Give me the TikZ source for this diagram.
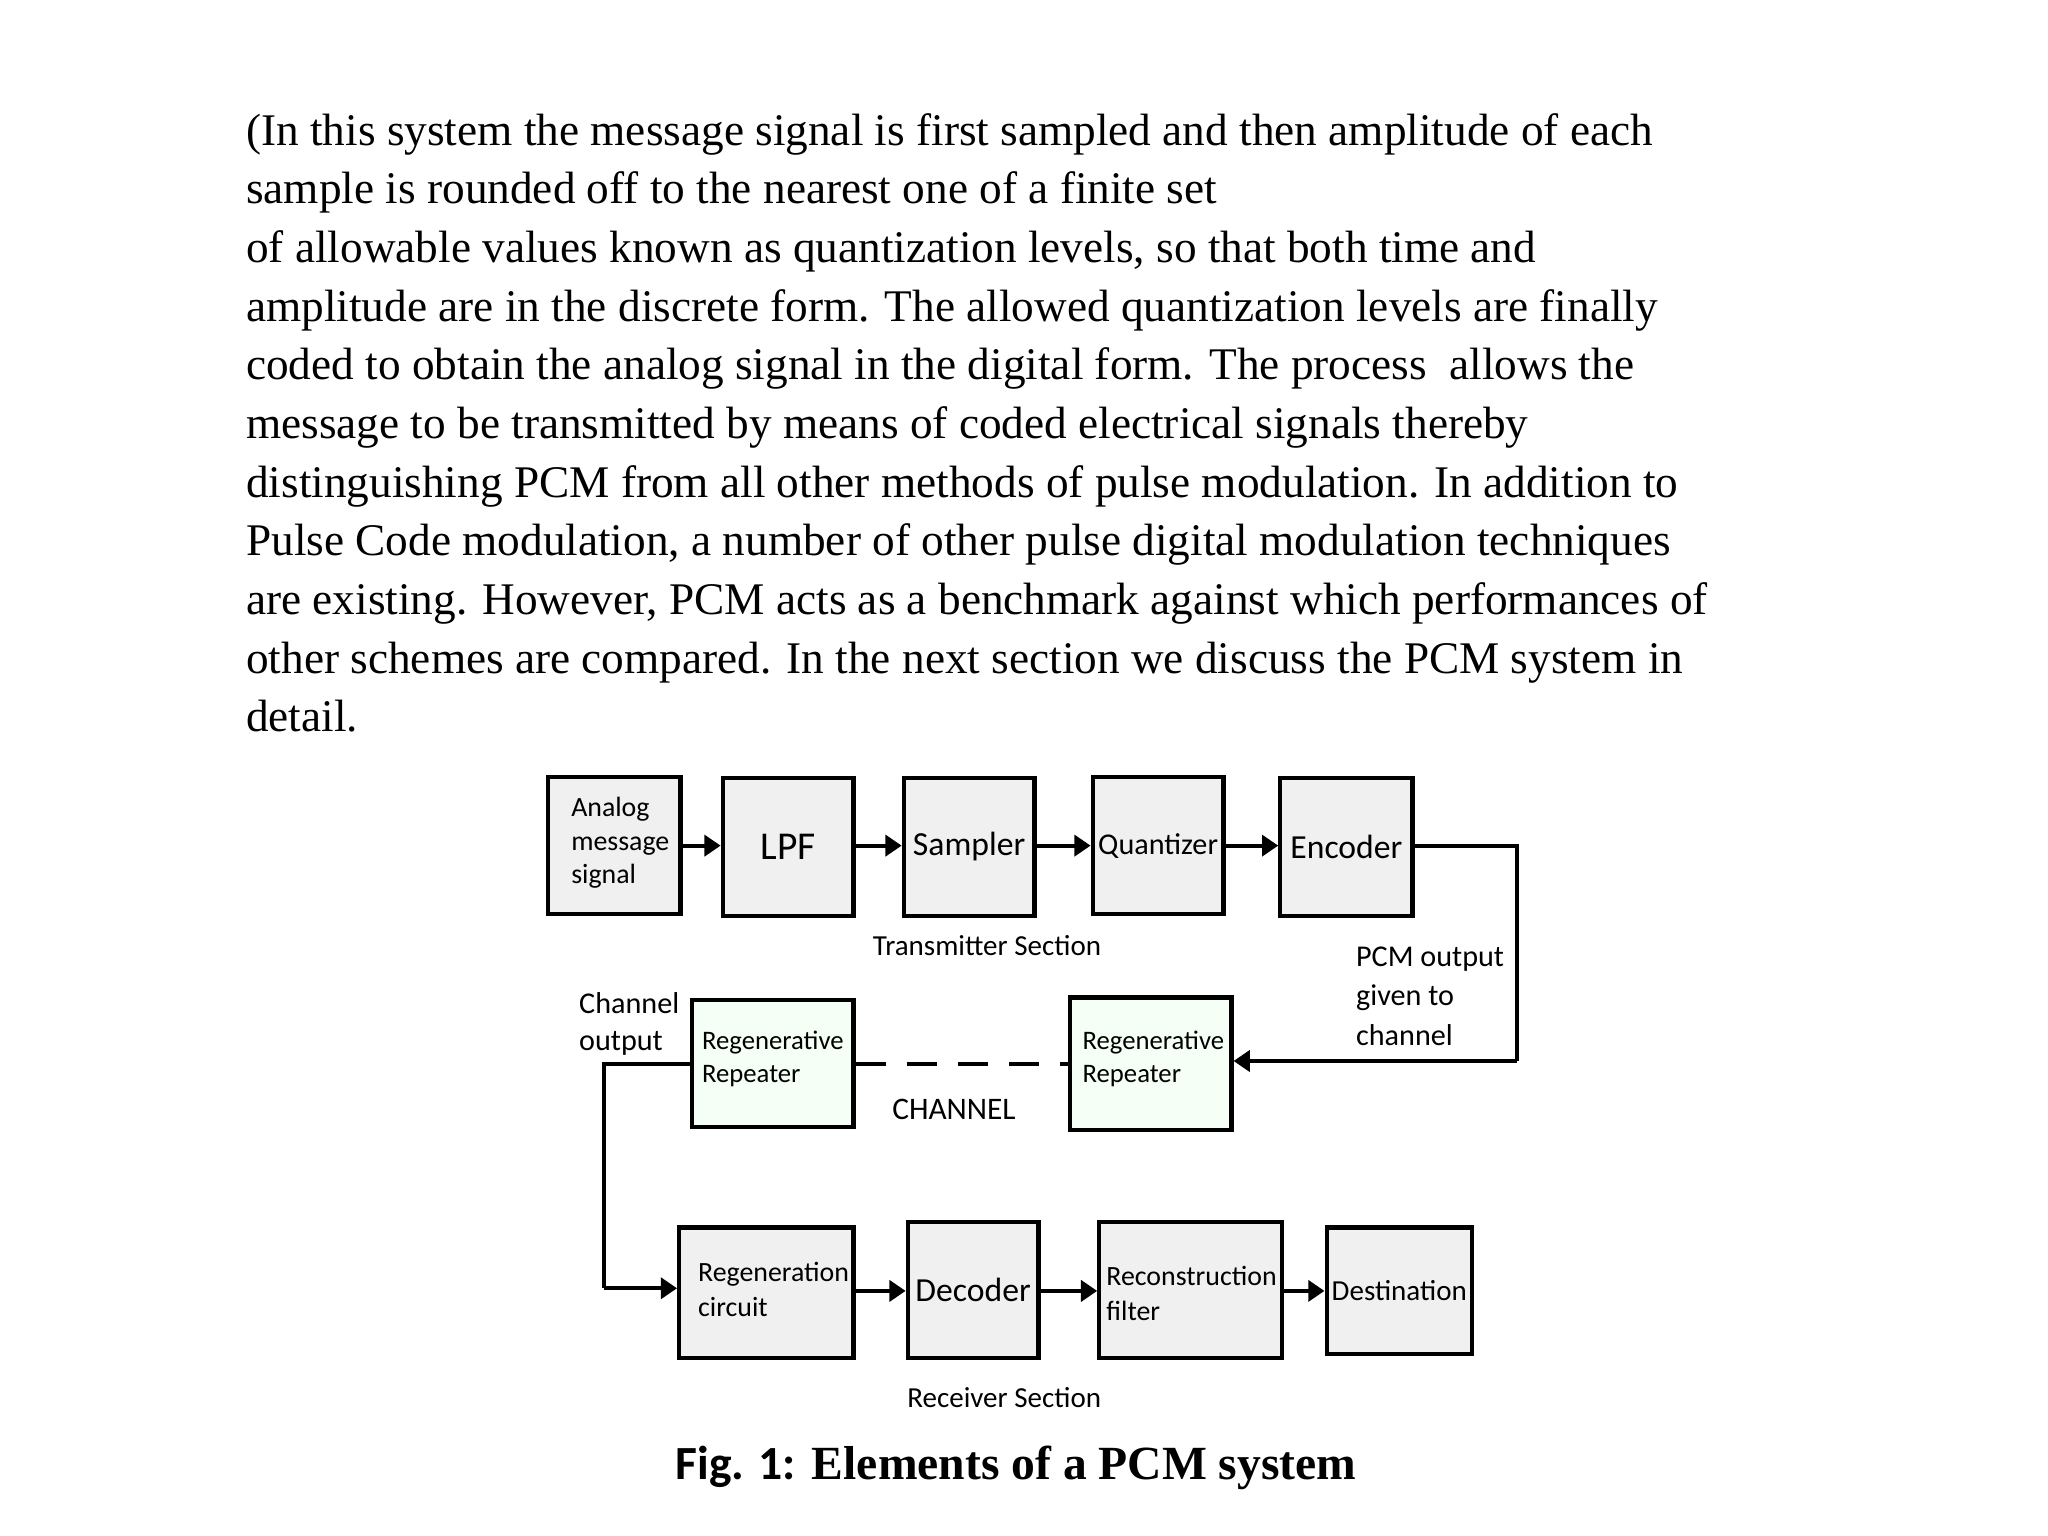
\documentclass[tikz,border=0pt]{standalone}
\usepackage{fontspec}
\setmainfont{Liberation Serif}
\newfontfamily\calfont{Carlito}
\usetikzlibrary{arrows.meta}
\begin{document}
\begin{tikzpicture}[x=0.02cm,y=-0.02cm,
 box/.style={draw,line width=1.8pt,fill=black!6,inner sep=0pt},
 rr/.style={box,fill=green!10!black!4!green!4!white},
 arr/.style={line width=1.8pt,-{Triangle[length=7pt,width=9pt]}},
 ln/.style={line width=1.8pt},
 para/.style={anchor=base west,inner sep=0pt,font=\fontsize{19.5}{23}\selectfont},
 lab/.style={font=\calfont\fontsize{12.5}{15}\selectfont,inner sep=0pt}]
\path[use as bounding box] (0,0) rectangle (1550,1162);
% paragraph
\foreach \t [count=\i] in {{(In this system the message signal is first sampled and then amplitude of each},
{sample is rounded off to the nearest one of a finite set},
{of allowable values known as quantization levels, so that both time and},
{amplitude are in the discrete form. The allowed quantization levels are finally},
{coded to obtain the analog signal in the digital form. The process\ \ allows the},
{message to be transmitted by means of coded electrical signals thereby},
{distinguishing PCM from all other methods of pulse modulation. In addition to},
{Pulse Code modulation, a number of other pulse digital modulation techniques},
{are existing. However, PCM acts as a benchmark against which performances of},
{other schemes are compared. In the next section we discuss the PCM system in},
{detail.}}
 \node[para] (p\i) at (186,{65.5+\i*44.4}) {\t};
% top row
\node[box,minimum width=100*0.02cm,minimum height=104*0.02cm] (an) at (465,640) {};
\node[lab,align=left,anchor=west,font=\calfont\fontsize{12}{14.5}\selectfont] (ant) at (432,638) {Analog\\message\\signal};
\node[box,minimum width=99*0.02cm,minimum height=104*0.02cm,font=\calfont\fontsize{17}{20}\selectfont] (lpf) at (596.5,641) {LPF};
\node[box,minimum width=99*0.02cm,minimum height=104*0.02cm,font=\calfont\fontsize{14.5}{17}\selectfont] (sa) at (733.5,641) {Sampler};
\node[box,minimum width=99*0.02cm,minimum height=104*0.02cm,font=\calfont\fontsize{13}{16}\selectfont] (qu) at (876.5,640) {Quantizer};
\node[box,minimum width=100*0.02cm,minimum height=104*0.02cm,font=\calfont\fontsize{14.5}{17}\selectfont] (en) at (1019,641) {Encoder};
\draw[arr] (an.east|-0,640) -- (lpf.west|-0,640);
\draw[arr] (lpf.east|-0,640) -- (sa.west|-0,640);
\draw[arr] (sa.east|-0,640) -- (qu.west|-0,640);
\draw[arr] (qu.east|-0,640) -- (en.west|-0,640);
\node[lab] (tx) at (747,716) {Transmitter Section};
% channel
\node[rr,minimum width=122*0.02cm,minimum height=100*0.02cm] (rr2) at (871,805) {};
\node[rr,minimum width=122*0.02cm,minimum height=96*0.02cm] (rr1) at (585,805) {};
\node[lab,align=left,anchor=north west,font=\calfont\fontsize{11.5}{14}\selectfont] (rr2t) at (819,780) {Regenerative\\Repeater};
\node[lab,align=left,anchor=north west,font=\calfont\fontsize{11.5}{14}\selectfont] (rr1t) at (531,780) {Regenerative\\Repeater};
\coordinate (c1) at (1148,640);
\coordinate (c2) at (1148,803);
\draw[ln] (en.east|-0,640) -- (c1) -- (c2);
\draw[arr] (c2) -- (rr2.east|-0,803);
\draw[ln,dash pattern=on 13pt off 9pt] (rr1.east) -- (rr2.west);
\node[lab,align=left,anchor=north west,font=\calfont\fontsize{13}{17}\selectfont] (pcm) at (1026,716) {PCM output\\given to\\channel};
\node[lab,align=left,anchor=north west,font=\calfont\fontsize{13}{16}\selectfont] (co) at (438,751) {Channel\\output};
\node[lab,font=\calfont\fontsize{13.5}{16}\selectfont] (ch) at (722,840) {CHANNEL};
% bottom row
\node[box,minimum width=132*0.02cm,minimum height=99*0.02cm] (rg) at (580,978.5) {};
\node[lab,align=left,anchor=west,font=\calfont\fontsize{12}{15}\selectfont] (rgt) at (528,976) {Regeneration\\circuit};
\node[box,minimum width=99*0.02cm,minimum height=103*0.02cm,font=\calfont\fontsize{14.5}{17}\selectfont] (de) at (736.5,976.5) {Decoder};
\node[box,minimum width=138*0.02cm,minimum height=103*0.02cm] (rc) at (901,976.5) {};
\node[lab,align=left,anchor=west,font=\calfont\fontsize{12}{15}\selectfont] (rct) at (837,979) {Reconstruction\\filter};
\node[box,minimum width=110*0.02cm,minimum height=96*0.02cm,font=\calfont\fontsize{12.5}{15}\selectfont] (ds) at (1059,977) {Destination};
\coordinate (d1) at (457,805);
\coordinate (d2) at (457,975);
\draw[ln] (rr1.west) -- (d1) -- (d2);
\draw[arr] (d2) -- (rg.west|-0,975);
\draw[arr] (rg.east|-0,977) -- (de.west|-0,977);
\draw[arr] (de.east|-0,977) -- (rc.west|-0,977);
\draw[arr] (rc.east|-0,977) -- (ds.west|-0,977);
\node[lab] (rx) at (760,1058) {Receiver Section};
\node[inner sep=0pt,font=\bfseries\fontsize{20.5}{24}\selectfont] (cap) at (769,1111) {{\calfont Fig. 1:} Elements of a PCM system};
\end{tikzpicture}
\end{document}
